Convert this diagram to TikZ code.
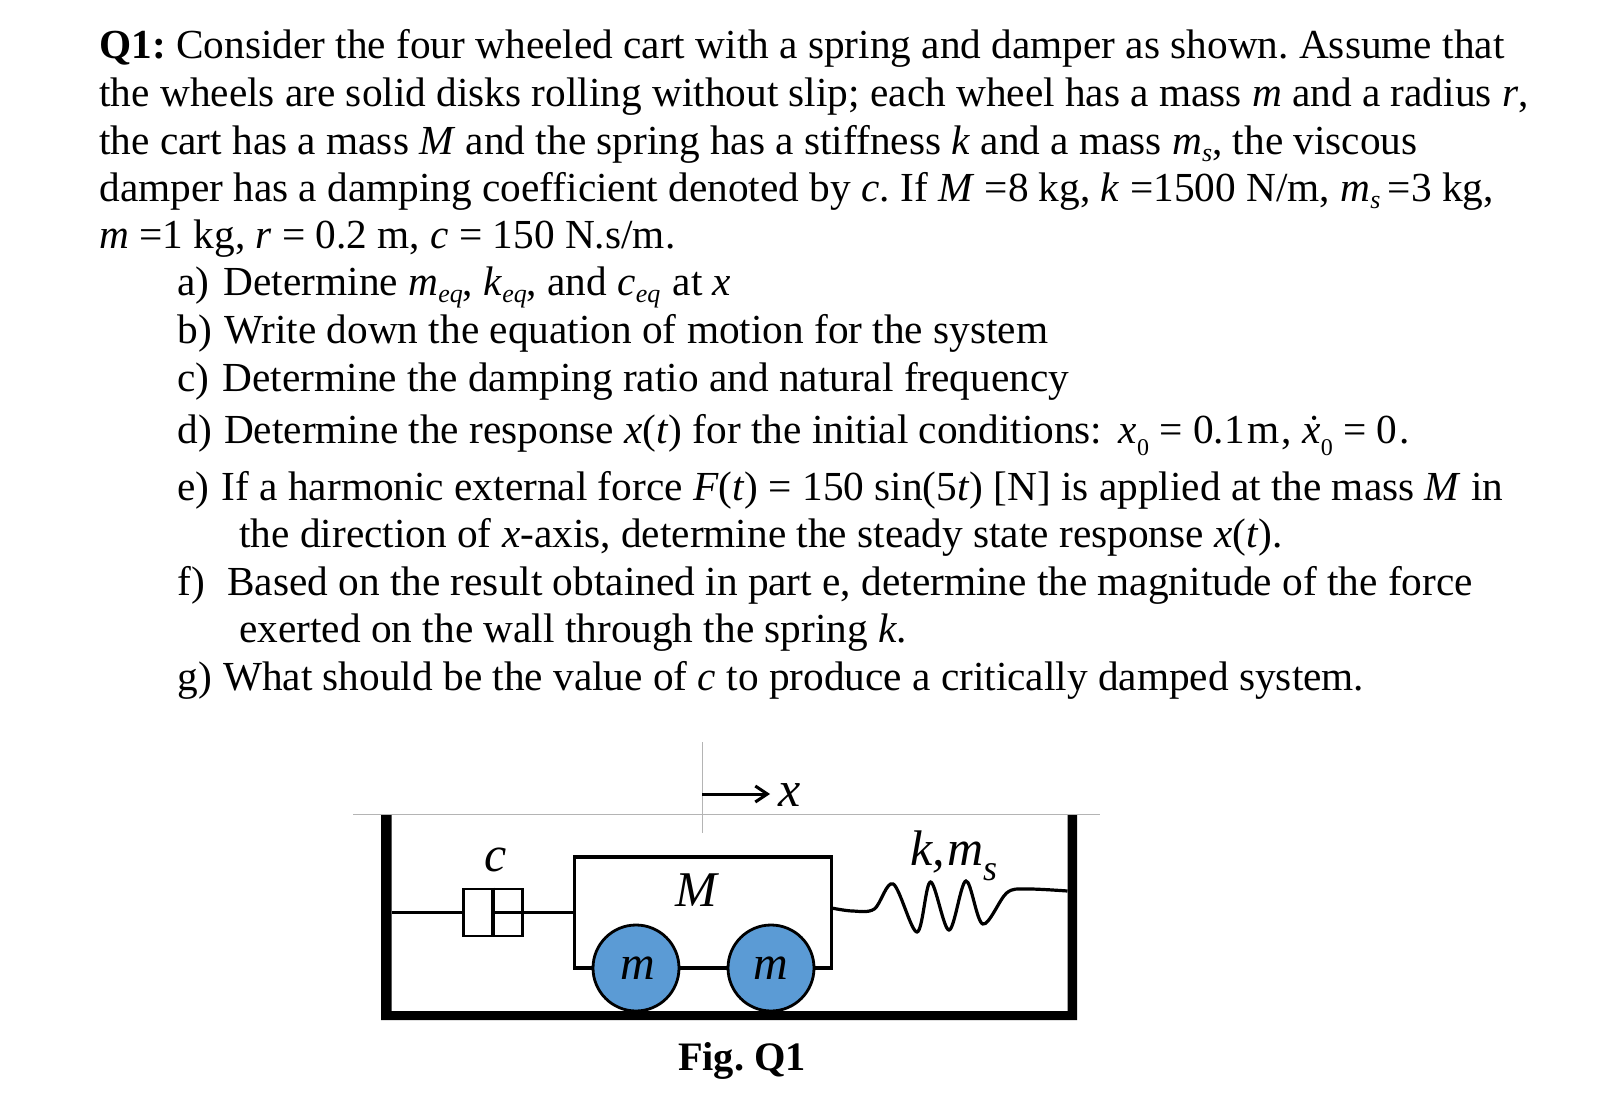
\documentclass[tikz,border=0pt]{standalone}
\usepackage{fontspec}
\setmainfont{Liberation Serif}
\usetikzlibrary{arrows.meta}
\frenchspacing
\definecolor{wheelblue}{HTML}{5B9BD5}
\definecolor{guide}{HTML}{B4B4B4}
\newcommand{\ii}[1]{\textit{#1}}
\newcommand{\sbs}[1]{\raisebox{-0.16em}{\fontsize{13}{13}\selectfont\textit{#1}}}
\newcommand{\zsub}{\raisebox{-0.3em}{\fontsize{12}{12}\selectfont 0}}
\tikzset{
  txt/.style={anchor=base west,inner sep=0pt,font=\fontsize{20.65}{24}\selectfont},
  figlabel/.style={inner sep=0pt,font=\fontsize{25}{28}\selectfont\itshape},
  rod/.style={draw=black,line width=1.6pt},
  guideline/.style={draw=guide,line width=0.5pt},
  wheel/.style={circle,draw=black,line width=1.4pt,fill=wheelblue,minimum size=43pt,inner sep=0pt,font=\fontsize{24}{28}\selectfont\itshape},
  wall/.style={fill=black,draw=none}
}
\begin{document}
\begin{tikzpicture}[x=0.5pt,y=-0.5pt]
\useasboundingbox (0,0) rectangle (1599,1101);
% text
\node[txt] (l1) at (99,59) {\textbf{Q1:} Consider the four wheeled cart with a spring and damper as shown. Assume that};
\node[txt] (l2) at (99,106.5) {the wheels are solid disks rolling without slip; each wheel has a mass \ii{m} and a radius \ii{r},};
\node[txt] (l3) at (99,154.5) {the cart has a mass \ii{M} and the spring has a stiffness \ii{k} and a mass \ii{m}\sbs{s}, the viscous};
\node[txt] (l4) at (99,201.5) {damper has a damping coefficient denoted by \ii{c}. If \ii{M} =8 kg, \ii{k} =1500 N/m, \ii{m}\sbs{s}\hspace{-1.5pt} =3 kg,};
\node[txt] (l5) at (99,249) {\ii{m} =1 kg, \ii{r} = 0.2 m, \ii{c} = 150 N.s/m.};
\node[txt] (l6) at (177,296) {a)\hspace{2pt} Determine \ii{m}\sbs{eq}, \ii{k}\sbs{eq}, and \ii{c}\sbs{eq}\hspace{1pt} at \ii{x}};
\node[txt] (l7) at (177,343.5) {b)\hspace{1pt} Write down the equation of motion for the system};
\node[txt] (l8) at (177,391.5) {c)\hspace{1.5pt} Determine the damping ratio and natural frequency};
\node[txt] (l9) at (177,443) {d)\hspace{1pt} Determine the response \ii{x}(\ii{t}) for the initial conditions:\hspace{0.4em}\ii{x}\zsub\ = 0.1\hspace{1.5pt}m\hspace{1pt}, \ii{\.x}\zsub\ = 0\hspace{1pt}.};
\node[txt] (l10) at (177,500) {e)\hspace{1pt} If a harmonic external force \ii{F}(\ii{t}) = 150 sin(5\ii{t}) [N] is applied at the mass \ii{M} in};
\node[txt] (l11) at (239,547) {the direction of \ii{x}-axis, determine the steady state response \ii{x}(\ii{t}).};
\node[txt] (l12) at (177,595) {f)\hspace{6pt} Based on the result obtained in part e, determine the magnitude of the force};
\node[txt] (l13) at (239,642) {exerted on the wall through the spring \ii{k}.};
\node[txt] (l14) at (177,690) {g)\hspace{0.5pt} What should be the value of \ii{c} to produce a critically damped system.};
% guides
\coordinate (gl) at (353,814);
\coordinate (gr) at (1100,814);
\coordinate (vt) at (702,742);
\coordinate (vb) at (702,833);
\draw[guideline] (gl) -- (gr);
\draw[guideline] (vt) -- (vb);
\coordinate (as) at (702,794);
\coordinate (ae) at (770,794);
\draw[black,line width=1.5pt,-{Straight Barb[length=6pt,width=8pt]}] (as) -- (ae);
\node[figlabel] (xl) at (790,795) {x};
% frame
\fill[wall] (381,815) -- (391.5,815) -- (391.5,1011) -- (1067.5,1011) -- (1067.5,815) -- (1077,815) -- (1077,1020) -- (381,1020) -- cycle;
% cart
\node[draw=black,line width=1.6pt,minimum width=128.25pt,minimum height=55.5pt,inner sep=0pt] (cart) at (703,912.5) {};
\node[figlabel] (Ml) at (696,890) {M};
\node[wheel] (w1) at (636,968) {\hspace*{2pt}m};
\node[wheel] (w2) at (771,968) {m};
% damper
\node[draw=black,line width=1.3pt,minimum width=29.75pt,minimum height=23.5pt,inner sep=0pt] (dp) at (493,912.5) {};
\coordinate (wl) at (391.5,912.5);
\draw[rod] (wl) -- (dp.west);
\draw[rod] (dp.north) -- (dp.south);
\draw[rod] (dp.center) -- (dp.east);
\draw[rod] (dp.east) -- (dp.east -| cart.west);
\node[figlabel] (cl) at (496,860) {c};
% spring
\draw[black,line width=1.6pt] plot[smooth,tension=0.55] coordinates {(831.5,908) (852.4,911) (874.3,909) (893.2,884) (917,932) (930.5,882) (949,930) (965.9,881) (982.8,924) (1006.6,893) (1026.5,889) (1067.5,891)};
\node[figlabel,anchor=base west] (kl) at (910,865) {k,\hspace{1pt}m\raisebox{-0.3em}{\fontsize{18}{18}\selectfont s}};
% caption
\node[inner sep=0pt,anchor=base,font=\fontsize{20.2}{24}\selectfont\bfseries] (cap) at (742,1070) {Fig. Q1};
\end{tikzpicture}
\end{document}
